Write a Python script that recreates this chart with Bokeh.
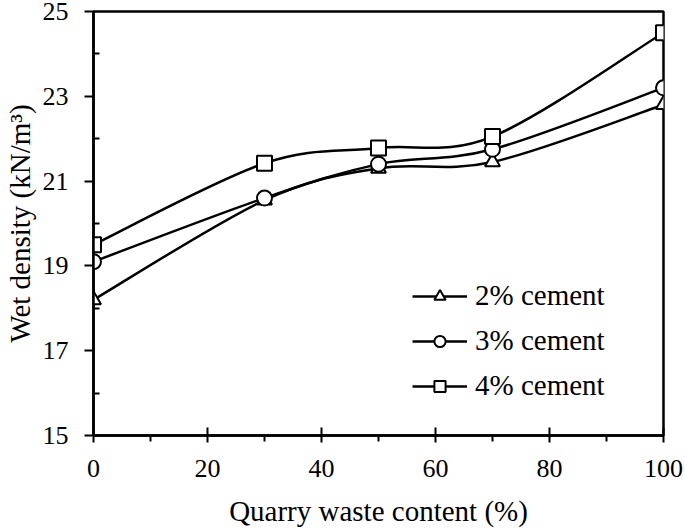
import numpy as np
from bokeh.plotting import figure
from bokeh.models import FixedTicker, Legend, LegendItem, ColumnDataSource, Range1d
from bokeh.embed import file_html
from bokeh.resources import INLINE

# ---- data ----
quarry_waste = [0, 30, 50, 70, 100]
cement_2 = [18.2, 20.55, 21.3, 21.45, 22.8]
cement_3 = [19.1, 20.6, 21.4, 21.75, 23.2]
cement_4 = [19.5, 21.42, 21.78, 22.05, 24.5]
series_labels = ["2% cement", "3% cement", "4% cement"]
series_markers = ["triangle", "circle", "square"]
x_ticks = [0, 20, 40, 60, 80, 100]
x_minor = [10, 30, 50, 70, 90]
y_ticks = [15, 17, 19, 21, 23, 25]
y_minor = [16, 18, 20, 22, 24]

FONT = "Liberation Serif"

p = figure(width=685, height=529, x_range=Range1d(0, 100), y_range=Range1d(15, 25),
           output_backend="svg", toolbar_location=None,
           min_border_left=92, min_border_right=22, min_border_top=11, min_border_bottom=94)
p.xgrid.visible = False
p.ygrid.visible = False
p.outline_line_color = "black"
p.outline_line_width = 2.5
p.background_fill_color = "white"
p.border_fill_color = "white"

p.xaxis.ticker = FixedTicker(ticks=x_ticks, minor_ticks=x_minor)
p.yaxis.ticker = FixedTicker(ticks=y_ticks, minor_ticks=y_minor)
p.xaxis.axis_label = "Quarry waste content (%)"
p.yaxis.axis_label = "Wet density (kN/m³)"
for ax in (p.xaxis[0], p.yaxis[0]):
    ax.axis_line_color = "black"
    ax.axis_line_width = 2.5
    ax.major_tick_line_color = "black"
    ax.major_tick_line_width = 2
    ax.minor_tick_line_color = "black"
    ax.minor_tick_line_width = 2
    ax.major_label_text_font = FONT
    ax.major_label_text_font_size = "26px"
    ax.major_label_text_color = "black"
    ax.axis_label_text_font = FONT
    ax.axis_label_text_font_size = "29px"
    ax.axis_label_text_font_style = "normal"
    ax.axis_label_text_color = "black"

p.xaxis.major_tick_in = 8
p.xaxis.major_tick_out = 7
p.xaxis.minor_tick_in = 0
p.xaxis.minor_tick_out = 6
p.xaxis.major_label_standoff = 17
p.xaxis.axis_label_standoff = 15

p.yaxis.major_tick_in = 0
p.yaxis.major_tick_out = 9
p.yaxis.minor_tick_in = 6
p.yaxis.minor_tick_out = 0
p.yaxis.major_label_standoff = 16
p.yaxis.axis_label_standoff = 4


def smooth_controls(xs, ys):
    xs = np.asarray(xs, float)
    ys = np.asarray(ys, float)
    n = len(xs)
    x0, y0, x1, y1, cx0, cy0, cx1, cy1 = [], [], [], [], [], [], [], []
    for i in range(n - 1):
        im = max(i - 1, 0)
        ip2 = min(i + 2, n - 1)
        x0.append(xs[i]); y0.append(ys[i])
        x1.append(xs[i + 1]); y1.append(ys[i + 1])
        cx0.append(xs[i] + (xs[i + 1] - xs[im]) / 6)
        cy0.append(ys[i] + (ys[i + 1] - ys[im]) / 6)
        cx1.append(xs[i + 1] - (xs[ip2] - xs[i]) / 6)
        cy1.append(ys[i + 1] - (ys[ip2] - ys[i]) / 6)
    return dict(x0=x0, y0=y0, x1=x1, y1=y1, cx0=cx0, cy0=cy0, cx1=cx1, cy1=cy1)


items = []
for ys, label, marker in zip([cement_2, cement_3, cement_4], series_labels, series_markers):
    src = ColumnDataSource(smooth_controls(quarry_waste, ys))
    p.bezier(x0="x0", y0="y0", x1="x1", y1="y1", cx0="cx0", cy0="cy0", cx1="cx1", cy1="cy1",
             source=src, line_color="black", line_width=2.5)
    # single-point line: draws nothing on the plot, supplies the legend's line
    leg_line = p.line(x=quarry_waste[:1], y=ys[:1], line_color="black", line_width=2.5)
    sc = p.scatter(x=quarry_waste, y=ys, marker=marker, size=15,
                   fill_color="white", line_color="black", line_width=2)
    items.append(LegendItem(label=label, renderers=[leg_line, sc]))

legend = Legend(items=items, location=(319, 33), padding=0, margin=0,
                border_line_color=None, background_fill_alpha=0,
                glyph_width=55, glyph_height=28, label_height=28, spacing=12,
                label_standoff=8, label_text_font=FONT, label_text_font_size="29px",
                label_text_color="black")
p.add_layout(legend)

open("out.html", "w").write(file_html(p, INLINE))
